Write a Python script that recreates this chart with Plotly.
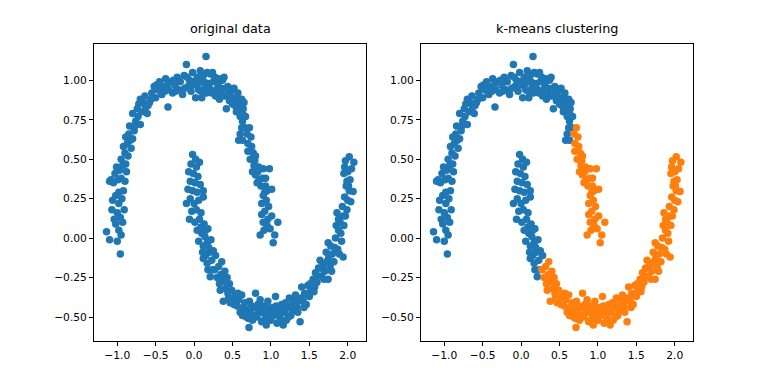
import plotly.graph_objects as go

# ---- data ----
# upper moon, k-means cluster 0 (blue)
upper_blue = [
    (-1.14,0.04),(-1.10,-0.01),(-1.00,-0.02),(-0.96,-0.10),(-0.98,0.05),(-1.02,0.09),(-0.95,0.02),
    (-1.07,0.18),(-0.91,0.18),(-1.00,0.16),(-0.96,0.13),(-1.04,0.12),(-0.98,0.22),(-0.94,0.25),
    (-0.98,0.29),(-1.02,0.27),(-0.92,0.30),(-1.10,0.36),(-1.05,0.35),(-0.99,0.37),(-0.95,0.38),
    (-0.90,0.36),(-1.08,0.37),(-1.03,0.41),(-0.97,0.43),(-0.93,0.46),(-1.01,0.45),(-0.88,0.42),
    (-0.95,0.50),(-0.90,0.54),(-0.86,0.52),(-0.92,0.58),(-0.87,0.60),(-0.85,0.66),(-0.89,0.64),
    (-0.82,0.57),(-0.80,0.63),(-0.78,0.68),(-0.84,0.71),(-0.76,0.74),(-0.80,0.79),(-0.73,0.77),
    (-0.70,0.72),(-0.74,0.82),(-0.68,0.80),(-0.66,0.86),(-0.70,0.88),(-0.63,0.83),(-0.61,0.79),
    (-0.58,0.86),(-0.55,0.92),(-0.52,0.96),(-0.50,0.89),(-0.47,0.94),(-0.45,0.99),(-0.42,0.91),
    (-0.40,0.96),(-0.37,1.01),(-0.34,0.83),(-0.33,0.94),(-0.30,0.99),(-0.28,0.92),(-0.25,0.97),
    (-0.22,1.02),(-0.20,0.94),(-0.18,0.99),(-0.15,0.91),(-0.13,1.03),(-0.10,1.10),(-0.08,0.96),
    (-0.06,1.00),(-0.04,0.93),(-0.02,1.05),(0.00,0.97),(0.02,0.89),(0.04,1.02),(0.06,0.94),
    (0.08,1.06),(0.10,0.99),(0.10,0.89),(0.12,1.03),(0.14,0.95),(0.155,1.15),(0.17,1.05),
    (0.19,0.98),(0.21,1.04),(0.23,0.92),(0.25,0.99),(0.27,1.02),(0.29,0.94),(0.31,0.97),
    (0.33,0.88),(0.35,0.95),(0.37,1.00),(0.39,1.02),(0.40,0.90),(0.42,0.82),(0.44,0.96),
    (0.46,0.87),(0.48,0.93),(0.50,0.85),(0.52,0.95),(0.54,0.89),(0.55,0.80),(0.57,0.92),
    (0.59,0.84),(0.60,0.77),(0.62,0.88),(0.63,0.74),(0.64,0.82),(0.65,0.86),(0.66,0.70),
    (0.60,0.66),(0.58,0.62),(0.63,0.62),(0.67,0.77),
    (-1.06,0.24),(-0.93,0.10),(-0.89,0.47),(-0.83,0.62),(-0.77,0.71),(-0.72,0.85),(-0.64,0.90),
    (-0.60,0.84),(-0.56,0.88),(-0.49,0.97),(-0.44,0.93),(-0.38,0.93),(-0.35,0.97),(-0.27,1.00),
    (-0.24,0.93),(-0.12,0.95),(-0.09,1.02),(-0.01,0.99),(0.05,0.98),(0.09,0.93),(0.13,0.99),
    (0.16,0.92),(0.20,0.95),(0.24,1.05),(0.28,0.90),(0.32,1.01),(0.36,0.91),(0.41,0.95),
    (0.45,0.91),(0.49,0.89),(0.53,0.84),(0.56,0.87),(0.61,0.81),(0.64,0.78),(0.62,0.70),
]
# upper moon, cluster 1 (orange)
upper_orange = [
    (0.69,0.66),(0.70,0.60),(0.72,0.70),(0.74,0.64),(0.70,0.55),(0.75,0.58),(0.77,0.54),
    (0.73,0.50),(0.78,0.46),(0.80,0.52),(0.76,0.42),(0.80,0.40),(0.84,0.45),(0.82,0.35),
    (0.87,0.33),(0.90,0.44),(0.93,0.38),(0.98,0.44),(0.95,0.30),(1.01,0.31),(0.90,0.27),
    (0.88,0.22),(0.94,0.24),(0.97,0.20),(0.92,0.17),(0.88,0.15),(1.01,0.14),(0.96,0.12),
    (1.09,0.10),(0.86,0.02),(0.91,0.05),(0.99,0.06),(1.03,-0.03),(0.95,0.08),(1.05,0.02),
    (0.85,0.37),(0.79,0.49),(0.92,0.29),(0.83,0.42),(0.89,0.38),(0.93,0.33),(0.90,0.10),
]
# lower moon, cluster 0 (blue)
lower_blue = [
    (-0.02,0.53),(0.02,0.50),(-0.04,0.47),(0.03,0.45),(0.07,0.48),(-0.07,0.42),(-0.01,0.41),
    (0.05,0.39),(-0.05,0.36),(0.01,0.35),(0.08,0.34),(-0.08,0.31),(-0.02,0.30),(0.04,0.29),
    (0.12,0.30),(-0.10,0.22),(-0.05,0.25),(0.00,0.22),(0.06,0.24),(0.12,0.26),(-0.03,0.17),
    (0.03,0.18),(0.09,0.16),(-0.06,0.12),(0.01,0.10),(0.07,0.12),(0.13,0.09),(0.04,0.05),
    (0.10,0.03),(0.14,0.01),(0.18,0.06),(0.06,-0.02),(0.12,-0.05),(0.17,-0.03),(0.22,-0.01),
    (0.15,-0.11),(0.20,-0.09),(0.25,-0.08),(0.12,-0.13),(0.17,-0.16),(0.23,-0.14),(0.28,-0.11),
    (0.21,-0.245),(0.18,-0.20),(0.24,-0.20),(0.09,0.07),(0.15,0.05),(0.11,-0.09),(0.19,-0.06),
]
# lower moon, cluster 1 (orange)
lower_orange = [
    (0.27,-0.20),(0.32,-0.18),(0.36,-0.15),(0.30,-0.25),(0.35,-0.23),(0.40,-0.21),(0.33,-0.29),
    (0.38,-0.27),(0.43,-0.25),(0.38,-0.40),(0.41,-0.32),(0.46,-0.29),(0.44,-0.35),(0.49,-0.33),
    (0.51,-0.38),(0.47,-0.41),(0.54,-0.36),(0.56,-0.43),(0.58,-0.39),(0.60,-0.47),(0.62,-0.36),
    (0.64,-0.44),(0.66,-0.41),(0.68,-0.50),(0.70,-0.46),(0.715,-0.566),(0.72,-0.40),(0.74,-0.48),
    (0.76,-0.52),(0.78,-0.44),(0.80,-0.35),(0.82,-0.50),(0.84,-0.46),(0.86,-0.39),(0.88,-0.53),
    (0.90,-0.43),(0.92,-0.48),(0.94,-0.55),(0.96,-0.40),(0.98,-0.46),(1.00,-0.52),(1.02,-0.44),
    (1.04,-0.49),(1.06,-0.37),(1.08,-0.54),(1.10,-0.46),(1.12,-0.50),(1.14,-0.42),(1.16,-0.55),
    (1.18,-0.47),(1.20,-0.52),(1.22,-0.44),(1.24,-0.38),(1.26,-0.49),(1.28,-0.42),(1.30,-0.46),
    (1.32,-0.36),(1.34,-0.44),(1.36,-0.40),(1.38,-0.53),(1.40,-0.31),(1.42,-0.40),(1.44,-0.35),
    (1.46,-0.42),(1.48,-0.30),(1.50,-0.37),(1.52,-0.33),(1.55,-0.26),(1.57,-0.31),(1.58,-0.22),
    (1.60,-0.28),(1.62,-0.19),(1.64,-0.14),(1.66,-0.24),(1.68,-0.17),(1.70,-0.21),(1.72,-0.09),
    (1.745,-0.26),(1.745,-0.03),(1.75,-0.13),(1.77,-0.18),(1.78,-0.05),(1.80,-0.10),(1.82,-0.15),
    (1.84,0.00),(1.86,0.16),(1.87,-0.07),(1.88,0.05),(1.90,0.10),(1.92,-0.02),(1.94,-0.12),
    (1.93,0.20),(1.95,0.08),(1.97,0.14),(1.99,0.18),(1.96,0.26),(2.00,0.24),(2.02,0.30),
    (2.07,0.295),(1.98,0.33),(2.03,0.37),(1.95,0.41),(2.00,0.42),(2.05,0.44),(1.97,0.49),
    (2.08,0.48),(2.02,0.515),(1.99,0.36),(2.04,0.23),(1.85,0.08),(1.88,0.12),
    (0.34,-0.33),(0.42,-0.28),(0.45,-0.38),(0.52,-0.42),(0.57,-0.35),(0.63,-0.49),(0.67,-0.45),
    (0.71,-0.51),(0.75,-0.43),(0.79,-0.49),(0.83,-0.42),(0.87,-0.47),(0.91,-0.52),(0.95,-0.44),
    (0.99,-0.50),(1.03,-0.47),(1.07,-0.43),(1.11,-0.53),(1.15,-0.46),(1.19,-0.41),(1.23,-0.50),
    (1.27,-0.45),(1.31,-0.40),(1.35,-0.47),(1.39,-0.38),(1.43,-0.44),(1.47,-0.36),(1.51,-0.29),
    (1.56,-0.34),(1.61,-0.24),(1.65,-0.19),(1.69,-0.26),(1.73,-0.15),(1.79,-0.21),(1.83,-0.06),
    (1.91,0.03),(1.89,-0.10),(1.94,0.14),(2.01,0.33),(1.96,0.45),
]

x_ticks = [-1.0, -0.5, 0.0, 0.5, 1.0, 1.5, 2.0]
x_tick_labels = ["\u22121.0", "\u22120.5", "0.0", "0.5", "1.0", "1.5", "2.0"]
y_ticks = [-0.5, -0.25, 0.0, 0.25, 0.5, 0.75, 1.0]
y_tick_labels = ["\u22120.50", "\u22120.25", "0.00", "0.25", "0.50", "0.75", "1.00"]
titles = ["original data", "k-means clustering"]

BLUE = "#1f77b4"
ORANGE = "#ff7f0e"
W, H = 768, 382
OFF = 8  # page body margin


def xs(pts):
    return [p[0] for p in pts]


def ys(pts):
    return [p[1] for p in pts]


fig = go.Figure()
all_pts = upper_blue + upper_orange + lower_blue + lower_orange
mk = dict(size=7.5, line=dict(width=0))
fig.add_trace(go.Scatter(x=xs(all_pts), y=ys(all_pts), mode="markers",
                         marker=dict(color=BLUE, **mk), xaxis="x", yaxis="y", showlegend=False))
blue_pts = upper_blue + lower_blue
orange_pts = upper_orange + lower_orange
fig.add_trace(go.Scatter(x=xs(blue_pts), y=ys(blue_pts), mode="markers",
                         marker=dict(color=BLUE, **mk), xaxis="x2", yaxis="y2", showlegend=False))
fig.add_trace(go.Scatter(x=xs(orange_pts), y=ys(orange_pts), mode="markers",
                         marker=dict(color=ORANGE, **mk), xaxis="x2", yaxis="y2", showlegend=False))

ydom = [1 - (341 - OFF) / H, 1 - (44 - OFF) / H]
axcommon = dict(showgrid=False, zeroline=False, showline=True, linecolor="black", linewidth=0.9,
                mirror=True, ticks="outside", ticklen=4, tickwidth=0.9, tickcolor="black",
                automargin=False,
                tickfont=dict(family="DejaVu Sans", size=10.7, color="black"))
xr = [-1.303, 2.238]
yr = [-0.652, 1.230]
fig.update_layout(
    template="none",
    width=W, height=H, margin=dict(l=0, r=0, t=0, b=0, autoexpand=False),
    plot_bgcolor="white", paper_bgcolor="white",
    xaxis=dict(domain=[(94 - OFF) / W, (366 - OFF) / W], range=xr, tickvals=x_ticks, ticktext=x_tick_labels, anchor="y", **axcommon),
    yaxis=dict(domain=ydom, range=yr, tickvals=y_ticks, ticktext=y_tick_labels, anchor="x", **axcommon),
    xaxis2=dict(domain=[(421 - OFF) / W, (693 - OFF) / W], range=xr, tickvals=x_ticks, ticktext=x_tick_labels, anchor="y2", **axcommon),
    yaxis2=dict(domain=ydom, range=yr, tickvals=y_ticks, ticktext=y_tick_labels, anchor="x2", **axcommon),
)
for i, (x0, x1) in enumerate([(94, 366), (421, 693)]):
    fig.add_annotation(text=titles[i], xref="paper", yref="paper", x=((x0 + x1) / 2 - OFF) / W, y=1 - (38 - OFF) / H,
                       xanchor="center", yanchor="bottom", showarrow=False,
                       font=dict(family="DejaVu Sans", size=12.8, color="black"))

fig.write_html("out.html")
